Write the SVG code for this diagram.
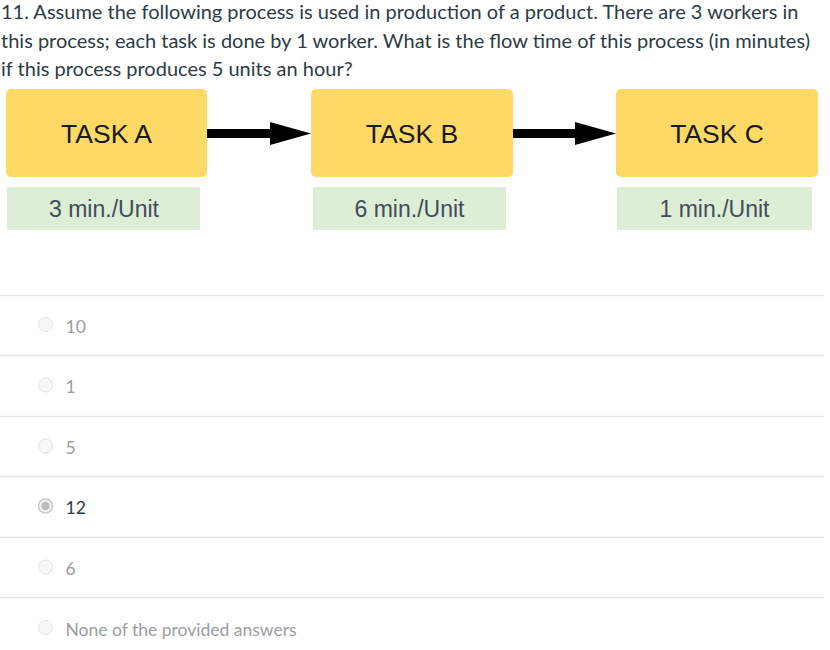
<svg xmlns="http://www.w3.org/2000/svg" width="830" height="650" viewBox="0 0 830 650">
<style>
.q{font-family:Lato,"Open Sans",sans-serif;font-size:20px;fill:#2d3b45}
.task{fill:#ffd966}
.tt{font-family:"Liberation Sans",Arial,sans-serif;font-size:26.5px;fill:#1a1a1a;text-anchor:middle}
.lab{fill:#deedd6}
.lt{font-family:"Liberation Sans",Arial,sans-serif;font-size:23px;fill:#434b5c;text-anchor:middle}
.div{stroke:#e5e5e5;stroke-width:1.5}
.rb{fill:#f7f7f7;stroke:#e3e3e3;stroke-width:1}
.opt{font-family:Lato,"Open Sans",sans-serif;font-size:17.5px;fill:#9a9ea3}
.sel{fill:#2d3b45}
.arr{stroke:#000;stroke-width:9}
</style>
<rect width="830" height="650" fill="#fff"/>
<g id="question">
<text class="q" x="1" y="19">11. Assume the following process is used in production of a product. There are 3 workers in</text>
<text class="q" x="1" y="47.5">this process; each task is done by 1 worker. What is the flow time of this process (in minutes)</text>
<text class="q" x="1" y="76">if this process produces 5 units an hour?</text>
</g>
<g id="connectors">
<line class="arr" x1="207" y1="133.5" x2="272" y2="133.5"/>
<path d="M270,122 L311,133.5 L270,145 Z" fill="#000"/>
<line class="arr" x1="512" y1="133.5" x2="577" y2="133.5"/>
<path d="M575,122 L616,133.5 L575,145 Z" fill="#000"/>
</g>
<g id="taskA">
<rect class="task" x="6" y="89" width="201" height="88" rx="5"/>
<text class="tt" x="106.5" y="143">TASK A</text>
</g>
<g id="taskB">
<rect class="task" x="311" y="89" width="202" height="88" rx="5"/>
<text class="tt" x="412" y="143">TASK B</text>
</g>
<g id="taskC">
<rect class="task" x="616" y="89" width="202" height="88" rx="5"/>
<text class="tt" x="717" y="143">TASK C</text>
</g>
<g id="labelA">
<rect class="lab" x="7" y="187" width="193" height="43"/>
<text class="lt" x="104" y="217">3 min./Unit</text>
</g>
<g id="labelB">
<rect class="lab" x="313" y="187" width="193" height="43"/>
<text class="lt" x="409.5" y="217">6 min./Unit</text>
</g>
<g id="labelC">
<rect class="lab" x="617" y="187" width="195" height="43"/>
<text class="lt" x="714.5" y="217">1 min./Unit</text>
</g>
<g id="dividers">
<line class="div" x1="0" y1="295.5" x2="824" y2="295.5"/>
<line class="div" x1="0" y1="355.5" x2="824" y2="355.5"/>
<line class="div" x1="0" y1="416.5" x2="824" y2="416.5"/>
<line class="div" x1="0" y1="476.5" x2="824" y2="476.5"/>
<line class="div" x1="0" y1="537.5" x2="824" y2="537.5"/>
<line class="div" x1="0" y1="597.5" x2="824" y2="597.5"/>
</g>
<g id="opt10">
<circle class="rb" cx="45.5" cy="324.5" r="7"/>
<text class="opt" x="65.5" y="332.5">10</text>
</g>
<g id="opt1">
<circle class="rb" cx="45.5" cy="385" r="7"/>
<text class="opt" x="65.5" y="393">1</text>
</g>
<g id="opt5">
<circle class="rb" cx="45.5" cy="446" r="7"/>
<text class="opt" x="65.5" y="454">5</text>
</g>
<g id="opt12">
<circle cx="45.5" cy="506" r="7" fill="#f2f2f2" stroke="#c8c8c8" stroke-width="1.5"/>
<circle cx="45.5" cy="506" r="4.2" fill="#bdbdbd"/>
<text class="opt sel" x="65.5" y="514">12</text>
</g>
<g id="opt6">
<circle class="rb" cx="45.5" cy="567" r="7"/>
<text class="opt" x="65.5" y="575">6</text>
</g>
<g id="optNone">
<circle class="rb" cx="45.5" cy="627.5" r="7"/>
<text class="opt" x="65.5" y="635.5">None of the provided answers</text>
</g>
</svg>
